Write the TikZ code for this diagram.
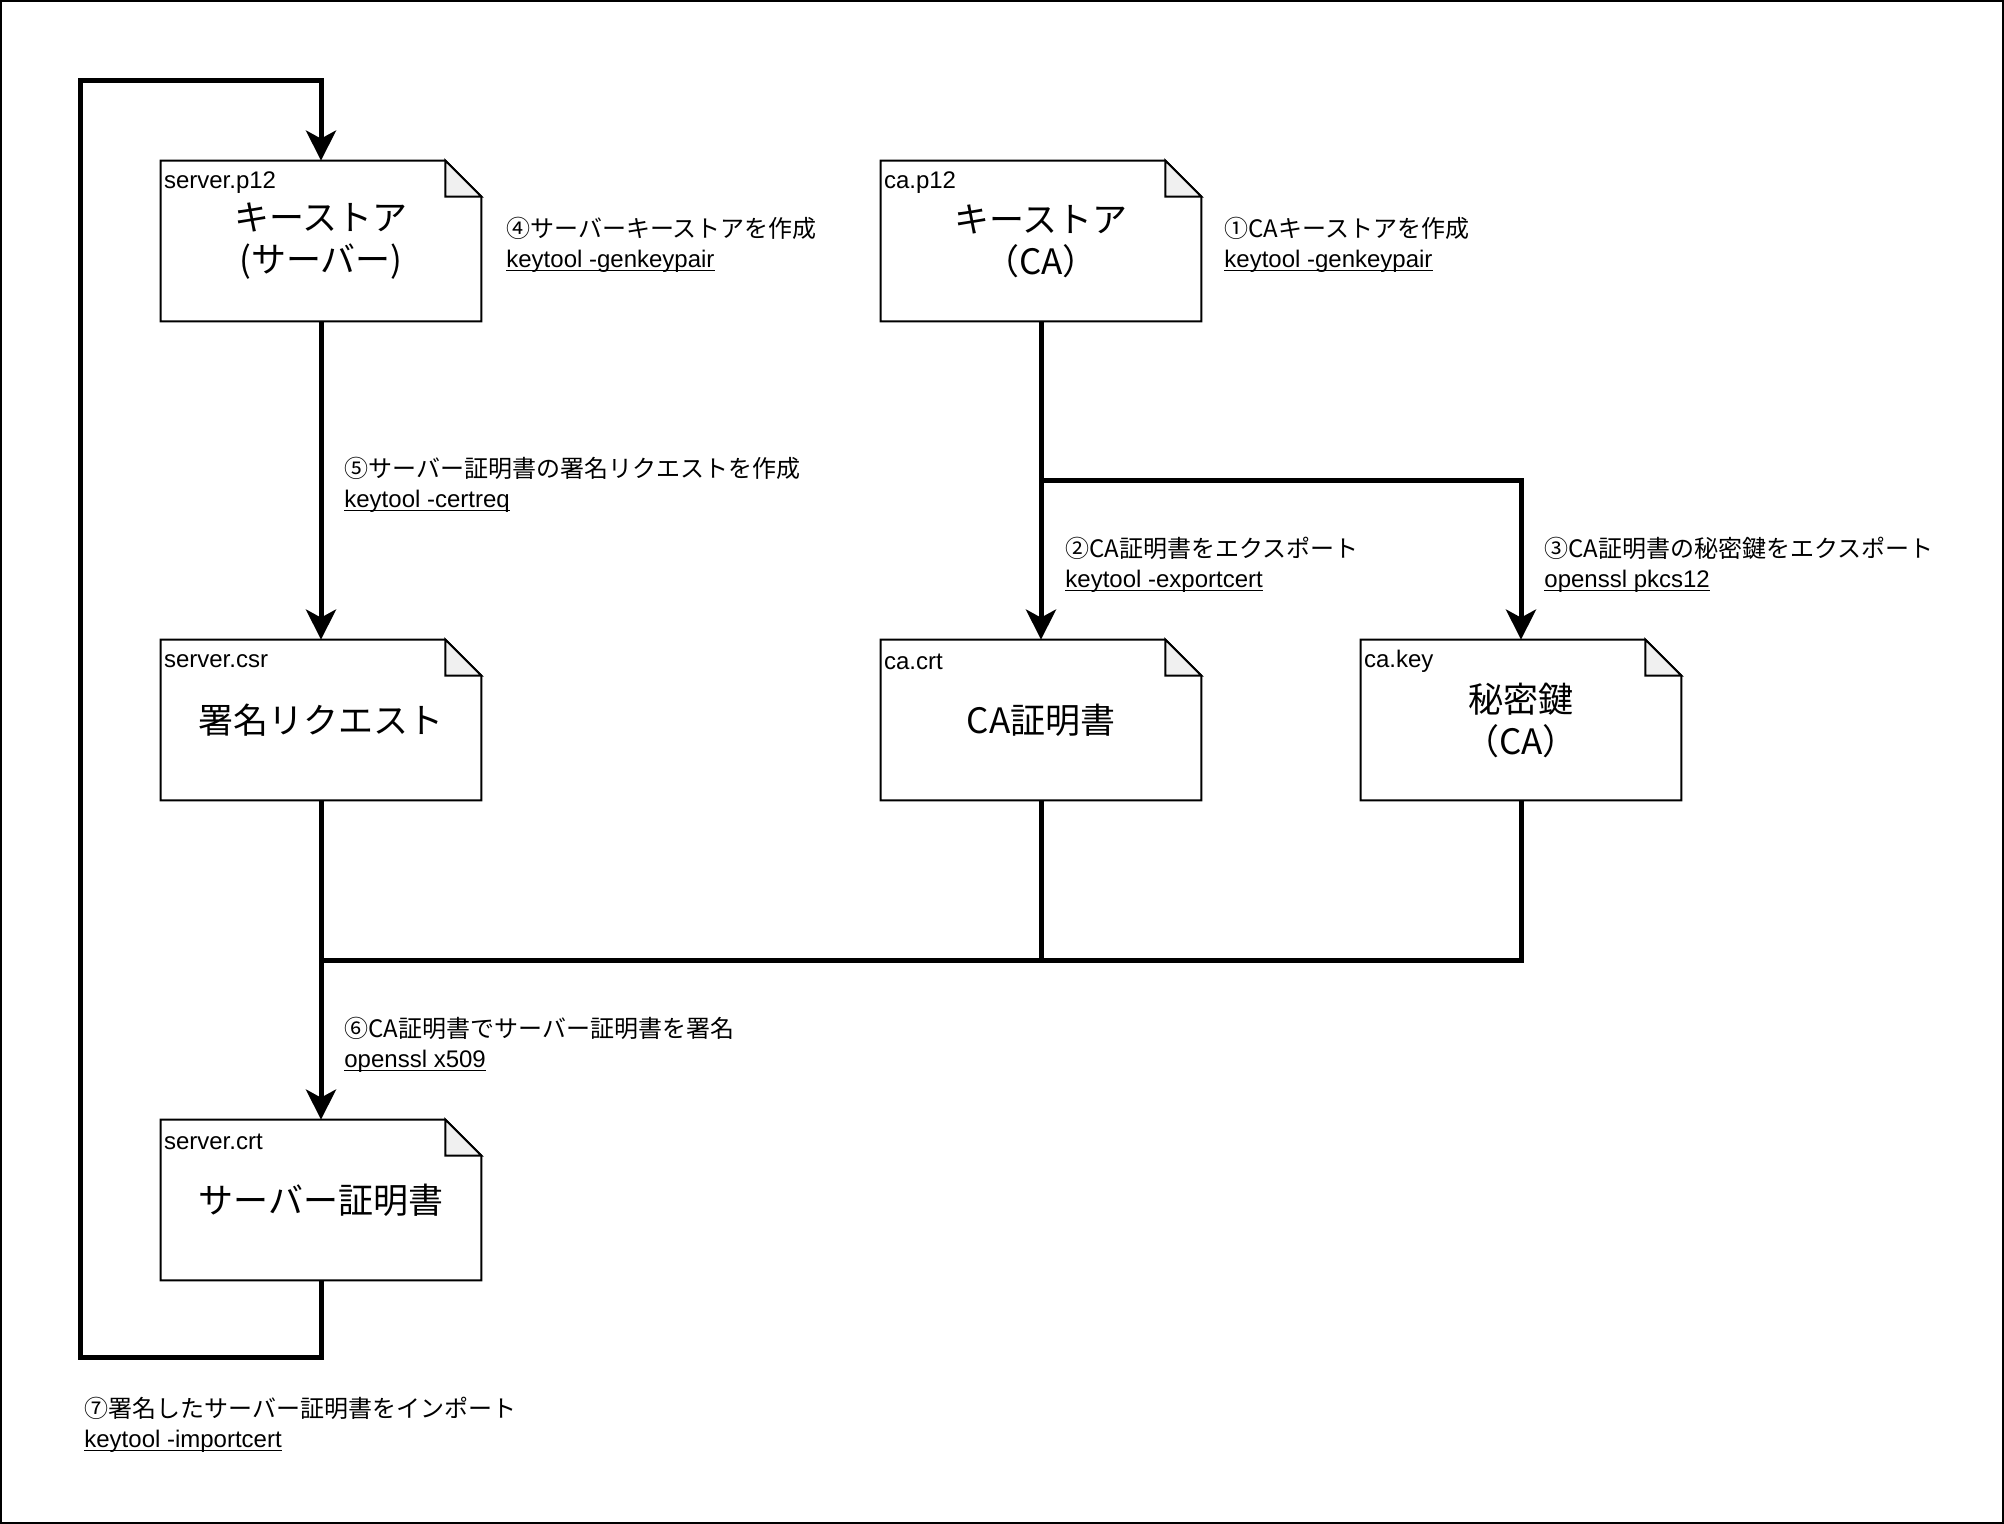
\documentclass[tikz,border=0pt]{standalone}
\usepackage{fontspec}
\setmainfont{Liberation Sans}
\newfontfamily\jp{Noto Sans CJK JP}
\usepackage{tikz}
\usepackage{xcolor}
\usetikzlibrary{arrows.meta,positioning}
\definecolor{foldgray}{RGB}{240,240,240}
\newcommand{\cmdul}[1]{\setbox0\hbox{#1}\rlap{\rule[-1.7pt]{\wd0}{0.6pt}}\box0}

\begin{document}
\begin{tikzpicture}[x=0.5pt,y=-0.5pt,
        doc/.style={minimum width=160pt,minimum height=80pt,inner sep=0pt,align=center,font=\jp\fontsize{17.5}{21}\selectfont},
        docline/.style={draw=black,line width=1pt},
        fname/.style={anchor=west,inner sep=0pt,font=\fontsize{12}{14}\selectfont},
        steplabel/.style={anchor=west,inner sep=0pt,align=left,font=\fontsize{12}{15}\selectfont},
        flow/.style={line width=2.5pt},
        flowarrow/.style={-{Stealth[length=15pt,width=15pt,inset=4pt]}}]
        \useasboundingbox (0,0) rectangle (2004,1524);
        \draw[line width=0.75pt] (1,1) rectangle (2003,1523);

        \node[doc] (sp) at (321,241) {キーストア\\(サーバー)};
        \node[doc] (cp) at (1041,241) {キーストア\\（CA）};
        \node[doc] (sc) at (321,720) {署名リクエスト};
        \node[doc] (cc) at (1041,720) {CA証明書};
        \node[doc] (ck) at (1521,720) {秘密鍵\\（CA）};
        \node[doc] (st) at (321,1200) {サーバー証明書};
        \foreach \n in {sp,cp,sc,cc,ck,st} {
            \draw[docline] (\n.north west) -- ([xshift=-18pt]\n.north east) -- ([yshift=-18pt]\n.north east) -- (\n.south east) -- (\n.south west) -- cycle;
            \filldraw[docline,fill=foldgray] ([xshift=-18pt]\n.north east) -- ([xshift=-18pt,yshift=-18pt]\n.north east) -- ([yshift=-18pt]\n.north east) -- cycle;
        }

        \node[fname] (spname) at ([xshift=1.5pt,yshift=-11pt]sp.north west) {server.p12};
        \node[fname] (cpname) at ([xshift=1.5pt,yshift=-11pt]cp.north west) {ca.p12};
        \node[fname] (scname) at ([xshift=1.5pt,yshift=-11pt]sc.north west) {server.csr};
        \node[fname] (ccname) at ([xshift=1.5pt,yshift=-11pt]cc.north west) {ca.crt};
        \node[fname] (ckname) at ([xshift=1.5pt,yshift=-11pt]ck.north west) {ca.key};
        \node[fname] (stname) at ([xshift=1.5pt,yshift=-11pt]st.north west) {server.crt};

        \node[steplabel] (step1) at (1224,245) {{\jp ①CAキーストアを作成}\\\cmdul{keytool -genkeypair}};
        \node[steplabel] (step2) at (1065,565) {{\jp ②CA証明書をエクスポート}\\\cmdul{keytool -exportcert}};
        \node[steplabel] (step3) at (1544,565) {{\jp ③CA証明書の秘密鍵をエクスポート}\\\cmdul{openssl pkcs12}};
        \node[steplabel] (step4) at (506,245) {{\jp ④サーバーキーストアを作成}\\\cmdul{keytool -genkeypair}};
        \node[steplabel] (step5) at (344,485) {{\jp ⑤サーバー証明書の署名リクエストを作成}\\\cmdul{keytool -certreq}};
        \node[steplabel] (step6) at (344,1045) {{\jp ⑥CA証明書でサーバー証明書を署名}\\\cmdul{openssl x509}};
        \node[steplabel] (step7) at (84,1425) {{\jp ⑦署名したサーバー証明書をインポート}\\\cmdul{keytool -importcert}};

        \coordinate (looptop) at (80,81);
        \coordinate (loopbot) at (80,1357);
        \coordinate (split) at (1041,481);
        \coordinate (merge) at (321,960);

        \draw[flow,flowarrow] (cp.south) -- (split) -- (cc.north);
        \draw[flow,flowarrow] (split) -| (ck.north);
        \draw[flow,flowarrow] (sp.south) -- (sc.north);
        \draw[flow] (cc.south) |- (merge);
        \draw[flow] (ck.south) |- (merge);
        \draw[flow,flowarrow] (sc.south) -- (merge) -- (st.north);
        \draw[flow,flowarrow] (st.south) |- (loopbot) -- (looptop) -| (sp.north);
    \end{tikzpicture}
\end{document}
